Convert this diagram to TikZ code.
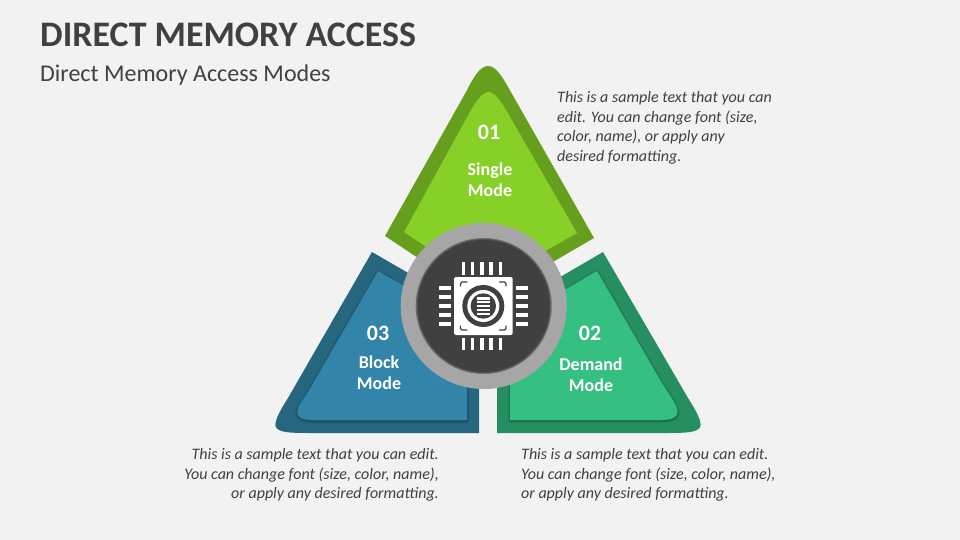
\documentclass[tikz,border=0pt]{standalone}
\usepackage{fontspec}
\setmainfont{Carlito}
\definecolor{bgc}{HTML}{F2F2F2}
\definecolor{txt}{HTML}{404040}
\definecolor{gro}{HTML}{669E1E}
\definecolor{gri}{HTML}{86D028}
\definecolor{blo}{HTML}{26667F}
\definecolor{bli}{HTML}{3285A8}
\definecolor{teo}{HTML}{258F61}
\definecolor{tei}{HTML}{35C082}
\definecolor{ringc}{HTML}{A6A6A6}
\tikzset{
 x=1pt,y=-1pt,
 titletext/.style={anchor=base west,inner sep=0,text=txt,font=\fontsize{35.9}{40}\selectfont\bfseries},
 subtext/.style={anchor=base west,inner sep=0,text=txt,font=\fontsize{24}{28}\selectfont},
 bodytext/.style={inner sep=0,text=txt,font=\fontsize{16}{19.5}\selectfont\itshape},
 numtext/.style={inner sep=0,text=white,font=\fontsize{22}{24}\selectfont\bfseries},
 modetext/.style={inner sep=0,text=white,align=center,font=\fontsize{18}{21}\selectfont\bfseries},
 pin/.style={fill=white,draw=none},
 bracket/.style={draw=txt,line width=1.2pt,line cap=round,rounded corners=1.5pt},
}
\def\greenouter{(385,236) -- (466,92) .. controls (473,78) and (480,66) .. (488,66) .. controls (497,66) and (504,80) .. (512,94) -- (594,238) -- (484,302) -- cycle}
\def\greeninner{(404,232) -- (471,110) .. controls (477,100) and (483,92) .. (488.5,92) .. controls (494,92) and (500,100) .. (506,110) -- (577,233) -- (484,286) -- cycle}
\def\blueouter{(372,252) -- (479,314) -- (479,433) -- (308,433) .. controls (285,433) and (272,432) .. (276,421) .. controls (278,414) and (283,406) .. (288,398) -- cycle}
\def\blueinner{(378,271) -- (467,322) -- (467,420) -- (312,420) .. controls (300,420) and (294,416) .. (299,406) .. controls (301,402) and (305,397) .. (308,392) -- cycle}
\def\tealouter{(603,252) -- (497,314) -- (497,433) -- (668,433) .. controls (691,433) and (704,432) .. (700,421) .. controls (698,414) and (693,406) .. (688,398) -- cycle}
\def\tealinner{(597,271) -- (510,322) -- (510,420) -- (660,420) .. controls (673,420) and (681,417) .. (676,406) .. controls (674,402) and (668,392) .. (663,385) -- cycle}
\begin{document}
\begin{tikzpicture}
\useasboundingbox (0,0) rectangle (960,540);
\fill[bgc] (0,0) rectangle (960,540);
% title
\node[titletext] (title) at (40,46.5) {DIRECT MEMORY ACCESS};
\node[subtext] (subtitle) at (40,82) {Direct Memory Access Modes};
% green
\fill[gro] \greenouter;
\fill[gri] \greeninner;
% blue
\fill[blo] \blueouter;
\foreach \w/\o in {5/.04,3.5/.05,2/.07,1/.09}{\draw[black,opacity=\o,line width=\w pt,line join=round,yshift=-1pt] \blueinner;}
\fill[bli] \blueinner;
% teal
\fill[teo] \tealouter;
\foreach \w/\o in {5/.04,3.5/.05,2/.07,1/.09}{\draw[black,opacity=\o,line width=\w pt,line join=round,yshift=-1pt] \tealinner;}
\fill[tei] \tealinner;
% hub
\fill[ringc] (483.7,306) circle[radius=83];
\fill[txt!55!ringc] (483.7,306) circle[radius=68];
\fill[txt!80!ringc] (483.7,306) circle[radius=67];
\fill[txt] (483.7,306) circle[radius=66];
% chip
\fill[white,rounded corners=1.5pt] (454,277) rectangle (512.5,335);
\foreach \px in {463.5,472.7,482,491,500.2}{
 \fill[pin] (\px-1.7,262) rectangle (\px+1.7,274.5);
 \fill[pin] (\px-1.7,338) rectangle (\px+1.7,350);
}
\foreach \py in {288,297,306,315,324}{
 \fill[pin] (439,\py-1.7) rectangle (451,\py+1.7);
 \fill[pin] (516,\py-1.7) rectangle (528,\py+1.7);
}
\draw[bracket] (460.5,286) -- (460.5,282) -- (467,282);
\draw[bracket] (506,286) -- (506,282) -- (499.5,282);
\draw[bracket] (460.5,326) -- (460.5,330) -- (467,330);
\draw[bracket] (506,326) -- (506,330) -- (499.5,330);
\fill[txt] (483.3,306) circle[radius=21];
\fill[white] (483.3,306) circle[radius=16];
\fill[txt] (483.3,306) circle[radius=12.7];
\foreach \py in {298.3,302.1,306,309.9,313.7}{
 \fill[pin] (477,\py-1.2) rectangle (489.5,\py+1.2);
}
% labels
\node[numtext] (n1) at (489,132.5) {01};
\node[modetext] (m1) at (490,179.5) {Single\\Mode};
\node[numtext] (n3) at (378,333.5) {03};
\node[modetext] (m3) at (379,372.5) {Block\\Mode};
\node[numtext] (n2) at (590,333.5) {02};
\node[modetext] (m2) at (591,374.5) {Demand\\Mode};
% body
\node[bodytext,anchor=north west,align=left] (t1) at (557,91.5) {This is a sample text that you can\\edit. You can change font (size,\\color, name), or apply any\\desired formatting.};
\node[bodytext,anchor=north east,align=right] (t3) at (439,448.5) {This is a sample text that you can edit.\\You can change font (size, color, name),\\or apply any desired formatting.};
\node[bodytext,anchor=north west,align=left] (t2) at (521,448.5) {This is a sample text that you can edit.\\You can change font (size, color, name),\\or apply any desired formatting.};
\end{tikzpicture}
\end{document}
